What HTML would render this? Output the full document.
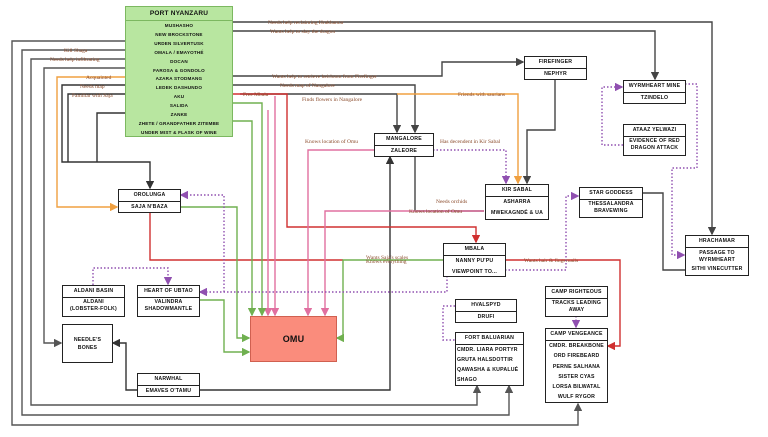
<!DOCTYPE html>
<html><head><meta charset="utf-8"><style>
html,body{margin:0;padding:0;background:#fff;}
body{width:768px;height:437px;position:relative;overflow:hidden;font-family:"Liberation Sans",sans-serif;}
.b{position:absolute;border:1.3px solid #222;background:#fff;box-sizing:border-box;font-weight:bold;font-size:5.2px;text-align:center;color:#111;letter-spacing:0.2px}
.b div{border-top:1px solid #222;}
.b div:first-child{border-top:none}
svg{position:absolute;left:0;top:0}
.l{font-family:"Liberation Serif",serif;font-size:5.5px;fill:#8a4a2a}
</style></head><body>
<svg width="768" height="437" viewBox="0 0 768 437">
<defs>
<marker id="a" markerWidth="6" markerHeight="6" refX="5" refY="3" orient="auto"><path d="M0,0 L6,3 L0,6z" fill="context-stroke"/></marker>
</defs>
<g fill="none" stroke-width="1.4">
<!-- left gray/black -->
<g stroke="#555">
<path d="M125,41 H12 V425 H578 V404" marker-end="url(#a)"/>
<path d="M125,50 H22 V415 H509 V386" marker-end="url(#a)"/>
<path d="M125,59 H31 V405 H477 V386" marker-end="url(#a)"/>
<path d="M125,68 H44 V343 H61" marker-end="url(#a)"/>
</g>
<path d="M125,77 H57 V207 H117" stroke="#f0a040" marker-end="url(#a)"/>
<g stroke="#333">
<path d="M125,85 H62 V162 H150 V188" marker-end="url(#a)"/>
<path d="M125,94 H68 V162"/>
<path d="M125,113 H97 V162"/>
<path d="M137,390 H126 V343 H113" marker-end="url(#a)"/>
<path d="M199,390 H390 V157" marker-end="url(#a)"/>
</g>
<!-- right of port -->
<g stroke="#444">
<path d="M232,22 H712 V234" marker-end="url(#a)"/>
<path d="M232,31 H655 V79" marker-end="url(#a)"/>
<path d="M232,76 H442 V62 H523" marker-end="url(#a)"/>
<path d="M232,85 H415 V132" marker-end="url(#a)"/>
<path d="M240,94 H397 V132" marker-end="url(#a)"/>
<path d="M555,80 V130 H527 V183" marker-end="url(#a)"/>
<path d="M415,157 V211 H484"/>
<path d="M643,193 H663 V270 H685"/>
</g>
<path d="M397,94 H518 V183" stroke="#f0a040" marker-end="url(#a)"/>
<!-- red -->
<g stroke="#d03030">
<path d="M232,94 H287 V227 H476 V242" marker-end="url(#a)"/>
<path d="M150,213 V260 H343"/>
<path d="M505,260 H620 V346 H608" marker-end="url(#a)"/>
</g>
<!-- pink -->
<g stroke="#e070a0">
<path d="M275,96 V315" marker-end="url(#a)"/>
<path d="M268,110 V315" marker-end="url(#a)"/>
<path d="M374,150 H308 V315" marker-end="url(#a)"/>
<path d="M484,211 H325 V315" marker-end="url(#a)"/>
</g>
<!-- green -->
<g stroke="#70b050">
<path d="M232,103 H262 V315" marker-end="url(#a)"/>
<path d="M232,121 H252 V315" marker-end="url(#a)"/>
<path d="M180,207 H237 V338 H249" marker-end="url(#a)"/>
<path d="M199,300 H224 V352 H249" marker-end="url(#a)"/>
<path d="M443,260 H343 V338 H337" marker-end="url(#a)"/>
</g>
<!-- purple dotted -->
<g stroke="#9050b0" stroke-dasharray="1.5,2">
<path d="M447,276 V292 H200" marker-end="url(#a)"/>
<path d="M224,292 V195 H181" marker-end="url(#a)"/>
<path d="M93,285 V268 H168 V284" marker-end="url(#a)"/>
<path d="M433,150 H506 V183" marker-end="url(#a)"/>
<path d="M505,270 H566 V196 H578" marker-end="url(#a)"/>
<path d="M685,84 H697 V168 H672 V255 H684" marker-end="url(#a)"/>
<path d="M623,145 H602 V87 H622" marker-end="url(#a)"/>
<path d="M455,306 H443 V340 H455"/>
<path d="M576,316 V327" marker-end="url(#a)"/>
</g>
</g>
<text class="l" x="268" y="24">Needs help reclaiming Hrakhamar</text>
<text class="l" x="270" y="33">Wants help to slay the dragon</text>
<text class="l" x="272" y="78">Wants help to retrieve heirloom from Firefinger</text>
<text class="l" x="280" y="87">Needs map of Nangalore</text>
<text class="l" x="243" y="96">Free Mbala</text>
<text class="l" x="302" y="101">Finds flowers in Nangalore</text>
<text class="l" x="458" y="96">Friends with saurians</text>
<text class="l" x="305" y="143">Knows location of Omu</text>
<text class="l" x="440" y="143">Has decendent in Kir Sabal</text>
<text class="l" x="436" y="203">Needs orchids</text>
<text class="l" x="409" y="213">Knows location of Omu</text>
<text class="l" x="366" y="259">Wants Saja's scales</text>
<text class="l" x="366" y="263">Knows everything</text>
<text class="l" x="524" y="262">Wants hair &amp; fingernails</text>
<text class="l" x="64" y="52">Kill Shaga</text>
<text class="l" x="50" y="61">Needs help infiltrating</text>
<text class="l" x="86" y="79">Acquainted</text>
<text class="l" x="80" y="88">Needs map</text>
<text class="l" x="72" y="97">Familiar with Saja</text>
</svg>
<div class="b" style="left:125px;top:6px;width:108px;height:131px;background:#b8e6a0;border-color:#7cb860;">
<div style="font-size:6.5px;height:13px;line-height:13px;border-color:#7cb860">PORT NYANZARU</div>
<div style="border-color:#7cb860;line-height:8.9px;font-size:4.6px;padding-top:1px">MUSHASHO<br>NEW BROCKSTONE<br>URDEN SILVERTUSK<br>OMALA / EMAYOTHÉ<br>DOCAN<br>FAROSA &amp; GONDOLO<br>AZARA STODMANG<br>LEDEK DASHUNDO<br>AKU<br>SALIDA<br>ZANKE<br>ZHETE / GRANDFATHER ZITEMBE<br>UNDER MIST &amp; FLASK OF WINE</div></div>
<div class="b" style="left:524px;top:56px;width:63px;height:24px"><div style="height:11px;line-height:11px">FIREFINGER</div><div style="line-height:10px">NEPHYR</div></div>
<div class="b" style="left:623px;top:80px;width:63px;height:24px"><div style="height:11px;line-height:11px">WYRMHEART MINE</div><div style="line-height:10px">TZINDELO</div></div>
<div class="b" style="left:623px;top:124px;width:63px;height:32px"><div style="height:11px;line-height:11px">ATAAZ YELWAZI</div><div style="line-height:7px;padding-top:1px">EVIDENCE OF RED<br>DRAGON ATTACK</div></div>
<div class="b" style="left:374px;top:133px;width:60px;height:24px"><div style="height:11px;line-height:11px">MANGALORE</div><div style="line-height:10px">ZALEORE</div></div>
<div class="b" style="left:485px;top:184px;width:64px;height:36px"><div style="height:11px;line-height:11px">KIR SABAL</div><div style="line-height:11px">ASHARRA<br>MWEKAGNDÉ &amp; UA</div></div>
<div class="b" style="left:579px;top:187px;width:64px;height:31px"><div style="height:11px;line-height:11px">STAR GODDESS</div><div style="line-height:7px;padding-top:1px">THESSALANDRA<br>BRAVEWING</div></div>
<div class="b" style="left:118px;top:189px;width:63px;height:24px"><div style="height:11px;line-height:11px">OROLUNGA</div><div style="line-height:10px">SAJA N'BAZA</div></div>
<div class="b" style="left:443px;top:243px;width:63px;height:34px"><div style="height:11px;line-height:11px">MBALA</div><div style="line-height:10.5px">NANNY PU'PU<br>VIEWPOINT TO...</div></div>
<div class="b" style="left:685px;top:235px;width:64px;height:41px"><div style="height:11px;line-height:11px">HRACHAMAR</div><div style="line-height:7px;padding-top:2px">PASSAGE TO<br>WYRMHEART</div><div style="line-height:10px;border-top:none">SITHI VINECUTTER</div></div>
<div class="b" style="left:62px;top:285px;width:63px;height:32px"><div style="height:11px;line-height:11px">ALDANI BASIN</div><div style="line-height:7px;padding-top:1px">ALDANI<br>(LOBSTER-FOLK)</div></div>
<div class="b" style="left:137px;top:285px;width:63px;height:32px"><div style="height:11px;line-height:11px">HEART OF UBTAO</div><div style="line-height:7px;padding-top:1px">VALINDRA<br>SHADOWMANTLE</div></div>
<div class="b" style="left:250px;top:316px;width:87px;height:46px;background:#fa8c7c;border-color:#d06050;font-size:9px;line-height:44px">OMU</div>
<div class="b" style="left:455px;top:299px;width:62px;height:24px"><div style="height:11px;line-height:11px">HVALSPYD</div><div style="line-height:10px">DRUFI</div></div>
<div class="b" style="left:455px;top:332px;width:69px;height:54px;text-align:left"><div style="height:11px;line-height:11px;text-align:center">FORT BALUARIAN</div><div style="line-height:10px;padding-left:1px">CMDR. LIARA PORTYR<br>GRUTA HALSDOTTIR<br>QAWASHA &amp; KUPALUÉ<br>SHAGO</div></div>
<div class="b" style="left:545px;top:286px;width:63px;height:31px"><div style="height:11px;line-height:11px">CAMP RIGHTEOUS</div><div style="line-height:7px;padding-top:1px">TRACKS LEADING<br>AWAY</div></div>
<div class="b" style="left:545px;top:328px;width:63px;height:75px"><div style="height:11px;line-height:11px">CAMP VENGEANCE</div><div style="line-height:10.3px">CMDR. BREAKBONE<br>ORD FIREBEARD<br>PERNE SALHANA<br>SISTER CYAS<br>LORSA BILWATAL<br>WULF RYGOR</div></div>
<div class="b" style="left:62px;top:324px;width:51px;height:39px;line-height:8px;padding-top:11px">NEEDLE'S<br>BONES</div>
<div class="b" style="left:137px;top:373px;width:63px;height:24px"><div style="height:11px;line-height:11px">NARWHAL</div><div style="line-height:10px">EMAVES O'TAMU</div></div>
</body></html>
